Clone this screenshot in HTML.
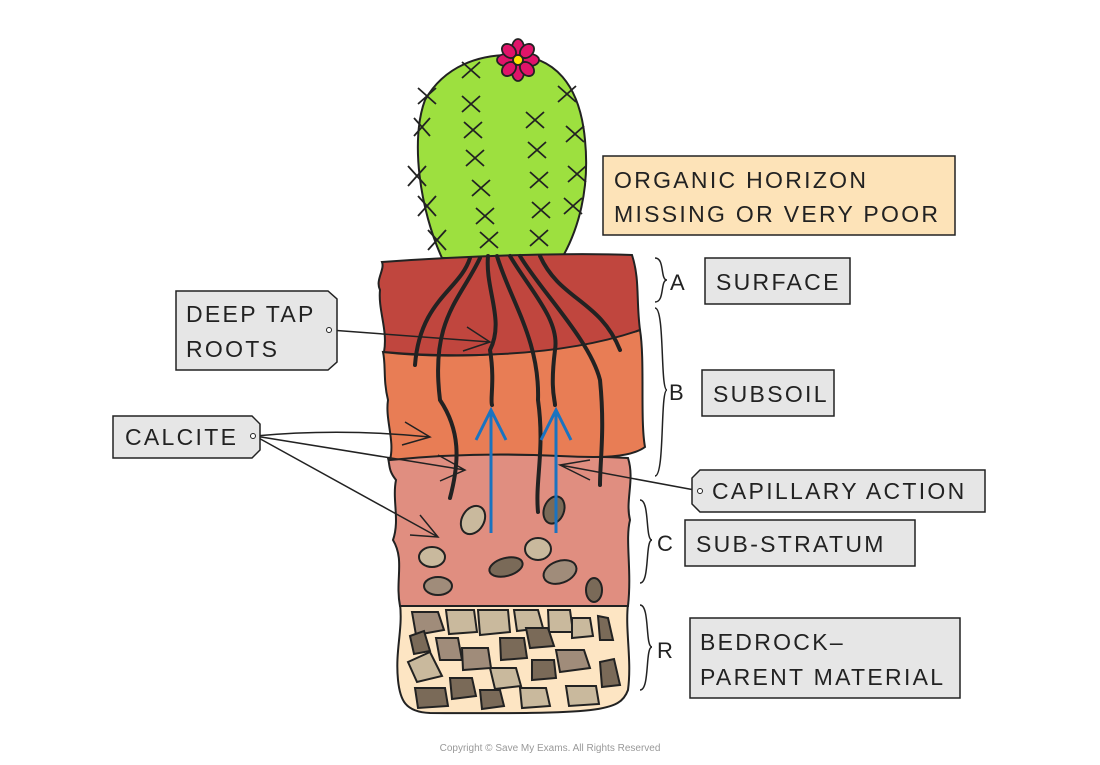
<!DOCTYPE html>
<html><head><style>
html,body{margin:0;padding:0;background:#fff;}
svg{display:block;font-family:"Liberation Sans",sans-serif;}
.t{font-size:23px;fill:#222;letter-spacing:2.3px;}
.r{fill:none;stroke:#222;stroke-width:4;stroke-linecap:round;}
.s{stroke:#222;stroke-width:2;}
.x{stroke:#222;stroke-width:1.8;}
</style></head><body>
<svg width="1100" height="765" viewBox="0 0 1100 765" xmlns="http://www.w3.org/2000/svg">
<!-- cactus -->
<path d="M442 258 C420 210 410 140 425 100 C445 65 480 55 510 55 C555 55 580 85 585 140 C590 190 578 230 562 258 Z" fill="#9de03f" class="s"/>
<g class="x">
<path d="M408 166l18 20M426 166l-18 20M414 118l16 18M430 118l-16 18M418 196l18 20M436 196l-18 20M428 230l18 20M446 230l-18 20M462 62l18 16M480 62l-18 16M462 96l18 16M480 96l-18 16M464 122l18 16M482 122l-18 16M466 150l18 16M484 150l-18 16M472 180l18 16M490 180l-18 16M476 208l18 16M494 208l-18 16M480 232l18 16M498 232l-18 16M526 112l18 16M544 112l-18 16M528 142l18 16M546 142l-18 16M530 172l18 16M548 172l-18 16M532 202l18 16M550 202l-18 16M530 230l18 16M548 230l-18 16M558 86l18 16M576 86l-18 16M566 126l18 16M584 126l-18 16M568 166l18 16M586 166l-18 16M564 198l18 16M582 198l-18 16M418 88l18 16M436 88l-18 16"/>
</g>
<g transform="translate(518,60)">
<g fill="#e0146a" class="x">
<ellipse cx="0" cy="-12" rx="6" ry="9"/><ellipse cx="0" cy="12" rx="6" ry="9"/><ellipse cx="-12" cy="0" rx="9" ry="6"/><ellipse cx="12" cy="0" rx="9" ry="6"/>
<ellipse cx="-9" cy="-9" rx="6" ry="8" transform="rotate(-45 -9 -9)"/><ellipse cx="9" cy="9" rx="6" ry="8" transform="rotate(-45 9 9)"/><ellipse cx="9" cy="-9" rx="6" ry="8" transform="rotate(45 9 -9)"/><ellipse cx="-9" cy="9" rx="6" ry="8" transform="rotate(45 -9 9)"/>
</g>
<circle r="5" fill="#ffe400" class="x"/>
</g>
<!-- R layer -->
<path d="M400 604 L628 604 C625 630 632 660 628 690 C620 712 600 714 430 713 C405 712 400 700 398 680 C395 650 403 630 400 604Z" fill="#fde5c3" class="s"/>
<g class="s">
<path d="M412 612h26l6 18-28 5z" fill="#a08c7a"/><path d="M446 610h28l3 22-28 2z" fill="#c9b99d"/><path d="M478 610h30l2 22-30 3z" fill="#c9b99d"/><path d="M514 610h24l5 18-26 3z" fill="#c9b99d"/><path d="M548 610h22l3 22-24 0z" fill="#c9b99d"/>
<path d="M408 662l22-10 12 24-25 6z" fill="#c9b99d"/><path d="M490 668h26l5 18-26 3z" fill="#c9b99d"/><path d="M556 650h28l6 18-30 4z" fill="#a08c7a"/><path d="M415 688h30l3 18-30 2z" fill="#7a6a58"/><path d="M566 686h30l3 18-30 2z" fill="#c9b99d"/><path d="M462 648h26l3 20-28 2z" fill="#a08c7a"/>
<path d="M410 636l14-5 6 20-16 3z" fill="#7a6a58"/><path d="M436 638h22l4 22-22 0z" fill="#a08c7a"/><path d="M526 628h22l6 18-24 2z" fill="#7a6a58"/><path d="M598 616l10 2 5 22-13 0z" fill="#7a6a58"/><path d="M450 678h22l4 18-24 3z" fill="#7a6a58"/><path d="M480 690h20l4 16-22 3z" fill="#7a6a58"/><path d="M520 688h26l4 18-28 2z" fill="#c9b99d"/><path d="M600 662l14-3 6 26-18 2z" fill="#7a6a58"/><path d="M532 660h22l2 18-24 2z" fill="#7a6a58"/><path d="M500 638h24l3 20-26 2z" fill="#7a6a58"/><path d="M572 618h18l3 18-21 2z" fill="#c9b99d"/>
</g>
<!-- C layer -->
<path d="M388 458 C450 452 560 455 628 458 C635 480 625 500 630 520 C625 540 632 570 628 606 L400 606 C395 580 405 560 393 540 C400 520 392 500 396 480 C388 470 390 465 388 458Z" fill="#e08e80" class="s"/>
<g class="s">
<ellipse cx="473" cy="520" rx="11" ry="15" fill="#c9b99d" transform="rotate(30 473 520)"/>
<ellipse cx="432" cy="557" rx="13" ry="10" fill="#c9b99d"/>
<ellipse cx="538" cy="549" rx="13" ry="11" fill="#c9b99d"/>
<ellipse cx="554" cy="510" rx="10" ry="14" fill="#7a6a58" transform="rotate(20 554 510)"/>
<ellipse cx="506" cy="567" rx="17" ry="9" fill="#7a6a58" transform="rotate(-15 506 567)"/>
<ellipse cx="560" cy="572" rx="17" ry="11" fill="#a08c7a" transform="rotate(-20 560 572)"/>
<ellipse cx="438" cy="586" rx="14" ry="9" fill="#a08c7a"/>
<ellipse cx="594" cy="590" rx="8" ry="12" fill="#7a6a58"/>
</g>
<!-- B layer -->
<path d="M383 352 C450 360 560 355 640 330 C645 360 640 420 645 447 C630 458 600 458 560 456 C500 453 440 455 390 460 C395 440 385 420 388 400 C383 380 386 365 383 352Z" fill="#e87d55" class="s"/>
<!-- A layer -->
<path d="M382 262 C450 257 560 252 632 255 C640 280 636 300 640 330 C560 358 450 358 384 352 C388 330 378 310 380 290 C375 280 385 270 382 262Z" fill="#c0463e" class="s"/>
<!-- roots -->
<g class="r">
<path d="M470 258 C460 290 420 300 415 365"/>
<path d="M480 258 C460 300 430 320 440 400 C460 430 460 460 450 498"/>
<path d="M488 256 C485 290 505 320 490 350 C495 380 490 400 492 405"/>
<path d="M497 256 C510 300 540 340 538 400 C545 450 535 480 538 512"/>
<path d="M510 256 C530 290 560 320 555 350 C550 390 555 400 555 405"/>
<path d="M520 256 C540 290 590 340 600 380 C605 430 600 460 600 485"/>
<path d="M540 256 C560 300 600 300 620 350"/>
</g>
<!-- capillary arrows -->
<g stroke="#1a73c0" stroke-width="3" fill="none">
<path d="M491 533V410M476 440l15-30 15 30"/>
<path d="M556 533V410M541 440l15-30 15 30"/>
</g>
<!-- leader lines -->
<g stroke="#222" stroke-width="1.5" fill="none">
<path d="M330 330 L490 342M467 327l23 15-27 9"/>
<path d="M255 436 C320 430 380 432 430 437M405 422l25 15-28 8"/>
<path d="M255 436 L465 470M438 455l27 15-25 11"/>
<path d="M255 436 L438 537M420 515l18 22-28-2"/>
<path d="M700 491 L560 465M590 480l-30-15 30-5"/>
<path d="M655 258c10 0 5 22 12 22c-7 0-2 22-12 22"/>
<path d="M655 308c10 0 5 82 12 82c-7 0-2 86-12 86"/>
<path d="M640 500c10 0 5 40 12 40c-7 0-2 43-12 43"/>
<path d="M640 605c10 0 5 42 12 42c-7 0-2 43-12 43"/>
</g>
<!-- boxes -->
<rect x="603" y="156" width="352" height="79" fill="#fde3b8" stroke="#222" stroke-width="1.5"/>
<text class="t" x="614" y="188">ORGANIC HORIZON</text>
<text class="t" x="614" y="222">MISSING OR VERY POOR</text>
<rect x="705" y="258" width="145" height="46" fill="#e6e6e6" stroke="#222" stroke-width="1.5"/>
<text class="t" x="716" y="290">SURFACE</text>
<rect x="702" y="370" width="132" height="46" fill="#e6e6e6" stroke="#222" stroke-width="1.5"/>
<text class="t" x="713" y="402">SUBSOIL</text>
<rect x="685" y="520" width="230" height="46" fill="#e6e6e6" stroke="#222" stroke-width="1.5"/>
<text class="t" x="696" y="552">SUB-STRATUM</text>
<rect x="690" y="618" width="270" height="80" fill="#e6e6e6" stroke="#222" stroke-width="1.5"/>
<text class="t" x="700" y="650">BEDROCK–</text>
<text class="t" x="700" y="685">PARENT MATERIAL</text>
<path d="M176 291H328l9 8V362l-9 8H176Z" fill="#e6e6e6" stroke="#222" stroke-width="1.5"/>
<text class="t" x="186" y="322">DEEP TAP</text>
<text class="t" x="186" y="357">ROOTS</text>
<circle cx="329" cy="330" r="2.5" fill="#fff" stroke="#222"/>
<path d="M113 416H252l8 8V450l-8 8H113Z" fill="#e6e6e6" stroke="#222" stroke-width="1.5"/>
<text class="t" x="125" y="445">CALCITE</text>
<circle cx="253" cy="436" r="2.5" fill="#fff" stroke="#222"/>
<path d="M700 470H985V512H700l-8-8V478Z" fill="#e6e6e6" stroke="#222" stroke-width="1.5"/>
<text class="t" x="712" y="499">CAPILLARY ACTION</text>
<circle cx="700" cy="491" r="2.5" fill="#fff" stroke="#222"/>
<g class="t" style="font-size:22px"><text x="670" y="290">A</text><text x="669" y="400">B</text><text x="657" y="551">C</text><text x="657" y="658">R</text></g>
<text x="550" y="751" text-anchor="middle" font-size="10" fill="#999">Copyright © Save My Exams. All Rights Reserved</text>
</svg>
</body></html>
